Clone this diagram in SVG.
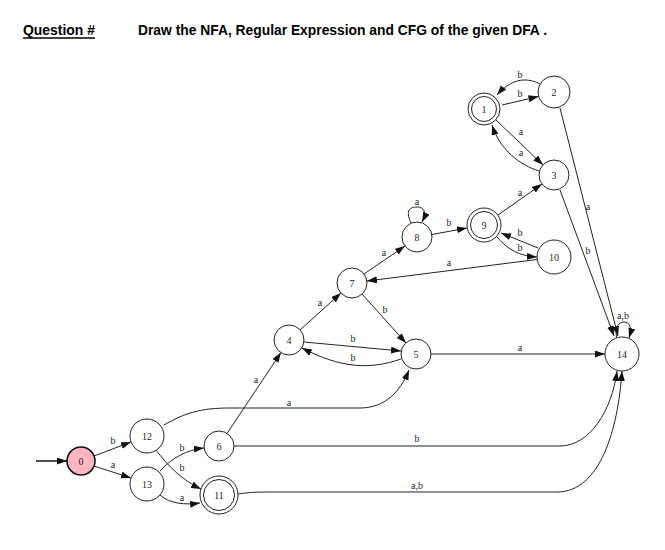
<svg xmlns="http://www.w3.org/2000/svg" width="665" height="550" viewBox="0 0 665 550">
<style>
.n circle{fill:#fff;stroke:#222;stroke-width:1}
.n text,.lb{font-family:"Liberation Serif",serif;font-size:10px;fill:#222;text-anchor:middle}
.e path,.e line{fill:none;stroke:#222;stroke-width:1;marker-end:url(#ah)}
.hd{font-family:"Liberation Sans",Arial,sans-serif;font-weight:bold;font-size:15px;fill:#000}
</style>
<defs>
<marker id="ah" markerUnits="userSpaceOnUse" markerWidth="10" markerHeight="8" refX="10" refY="3.5" orient="auto">
<path d="M0,0 L10,3.5 L0,7 z" fill="#111"/>
</marker>
</defs>
<rect width="665" height="550" fill="#fff"/>
<text class="hd" x="23" y="35" textLength="72" lengthAdjust="spacingAndGlyphs">Question #</text>
<line x1="23" y1="38" x2="95" y2="38" stroke="#000" stroke-width="1.5"/>
<text class="hd" x="138" y="35" textLength="409" lengthAdjust="spacingAndGlyphs">Draw the NFA, Regular Expression and CFG of the given DFA .</text>

<g id="edges" class="e">
<line x1="36" y1="461" x2="67" y2="461" style="stroke-width:1.6"/>
<line x1="94" y1="456" x2="131" y2="442"/>
<line x1="94" y1="466" x2="131" y2="478"/>
<path d="M160,471 C172,458 186,450 204,448"/>
<path d="M156,450 C168,466 182,480 201,489"/>
<path d="M160,495 C170,504 185,505 200,503"/>
<path d="M164,425 C185,413 200,408 230,408 L360,408 C385,408 400,392 409,370"/>
<line x1="227" y1="433.5" x2="281" y2="352.5"/>
<path d="M234,446 L560,446 C590,446 612,410 617,371"/>
<path d="M238,494 C250,492 260,492 280,492 L557,492 C600,492 618,430 622,371"/>
<line x1="300" y1="330" x2="341" y2="293"/>
<line x1="304" y1="342" x2="401" y2="351"/>
<path d="M401,359 C370,370 340,368 302,348"/>
<line x1="362" y1="294" x2="406" y2="343"/>
<line x1="364" y1="274" x2="405" y2="246"/>
<path d="M411,223 C405,210 410,207 417,207 C424,207 427,212 422,222"/>
<line x1="432" y1="234.5" x2="467" y2="228"/>
<line x1="537" y1="259.5" x2="367" y2="281"/>
<path d="M497,237 C508,250 520,256 537,257"/>
<line x1="538" y1="248" x2="501" y2="233"/>
<line x1="498" y1="215" x2="542" y2="184"/>
<line x1="496" y1="120" x2="543" y2="165"/>
<path d="M539,171 C520,165 500,150 492,125"/>
<line x1="502" y1="105" x2="538.5" y2="96.5"/>
<path d="M540,84 C525,76 510,80 497,95"/>
<line x1="560" y1="108" x2="618" y2="336"/>
<line x1="560" y1="190" x2="614" y2="336"/>
<line x1="431" y1="354" x2="605" y2="354"/>
<path d="M617,339 C614,327 619,322 624,322 C630,322 632,328 629,338"/>
</g>

<g id="labels">
<text class="lb" x="113" y="444">b</text>
<text class="lb" x="113" y="468">a</text>
<text class="lb" x="182" y="451">b</text>
<text class="lb" x="182" y="471">b</text>
<text class="lb" x="182" y="501">a</text>
<text class="lb" x="289" y="406">a</text>
<text class="lb" x="256" y="383">a</text>
<text class="lb" x="417" y="442">b</text>
<text class="lb" x="417" y="489">a,b</text>
<text class="lb" x="320" y="306">a</text>
<text class="lb" x="353" y="342">b</text>
<text class="lb" x="353" y="361">b</text>
<text class="lb" x="385" y="313">b</text>
<text class="lb" x="384" y="256">a</text>
<text class="lb" x="417" y="205">a</text>
<text class="lb" x="449" y="226">b</text>
<text class="lb" x="449" y="266">a</text>
<text class="lb" x="520" y="251">b</text>
<text class="lb" x="520" y="236">b</text>
<text class="lb" x="520" y="196">a</text>
<text class="lb" x="521" y="135">a</text>
<text class="lb" x="521" y="156">a</text>
<text class="lb" x="520" y="97">b</text>
<text class="lb" x="520" y="78">b</text>
<text class="lb" x="588" y="210">a</text>
<text class="lb" x="588" y="254">b</text>
<text class="lb" x="520" y="351">a</text>
<text class="lb" x="623" y="319">a,b</text>
</g>

<g id="n0" class="n"><circle cx="81" cy="461" r="14" style="fill:#ffb6c1;stroke:#111;stroke-width:1.6"/><text x="81" y="464.5">0</text></g>
<g id="n12" class="n"><circle cx="147" cy="436" r="17"/><text x="147" y="439.5">12</text></g>
<g id="n13" class="n"><circle cx="147" cy="484" r="17"/><text x="147" y="487.5">13</text></g>
<g id="n6" class="n"><circle cx="219" cy="446" r="15"/><text x="219" y="449.5">6</text></g>
<g id="n11" class="n"><circle cx="219" cy="495" r="19"/><circle cx="219" cy="495" r="15.5"/><text x="219" y="498.5">11</text></g>
<g id="n4" class="n"><circle cx="289" cy="340" r="15"/><text x="289" y="343.5">4</text></g>
<g id="n5" class="n"><circle cx="416" cy="354" r="15"/><text x="416" y="357.5">5</text></g>
<g id="n7" class="n"><circle cx="352" cy="283" r="15"/><text x="352" y="286.5">7</text></g>
<g id="n8" class="n"><circle cx="417" cy="237" r="15"/><text x="417" y="240.5">8</text></g>
<g id="n9" class="n"><circle cx="484" cy="225" r="17"/><circle cx="484" cy="225" r="13.5"/><text x="484" y="228.5">9</text></g>
<g id="n10" class="n"><circle cx="554" cy="257" r="17"/><text x="554" y="260.5">10</text></g>
<g id="n3" class="n"><circle cx="554" cy="175" r="15"/><text x="554" y="178.5">3</text></g>
<g id="n1" class="n"><circle cx="484" cy="109" r="16"/><circle cx="484" cy="109" r="12.5"/><text x="484" y="112.5">1</text></g>
<g id="n2" class="n"><circle cx="554" cy="92" r="16"/><text x="554" y="95.5">2</text></g>
<g id="n14" class="n"><circle cx="622" cy="354" r="17"/><text x="622" y="357.5">14</text></g>
</svg>
